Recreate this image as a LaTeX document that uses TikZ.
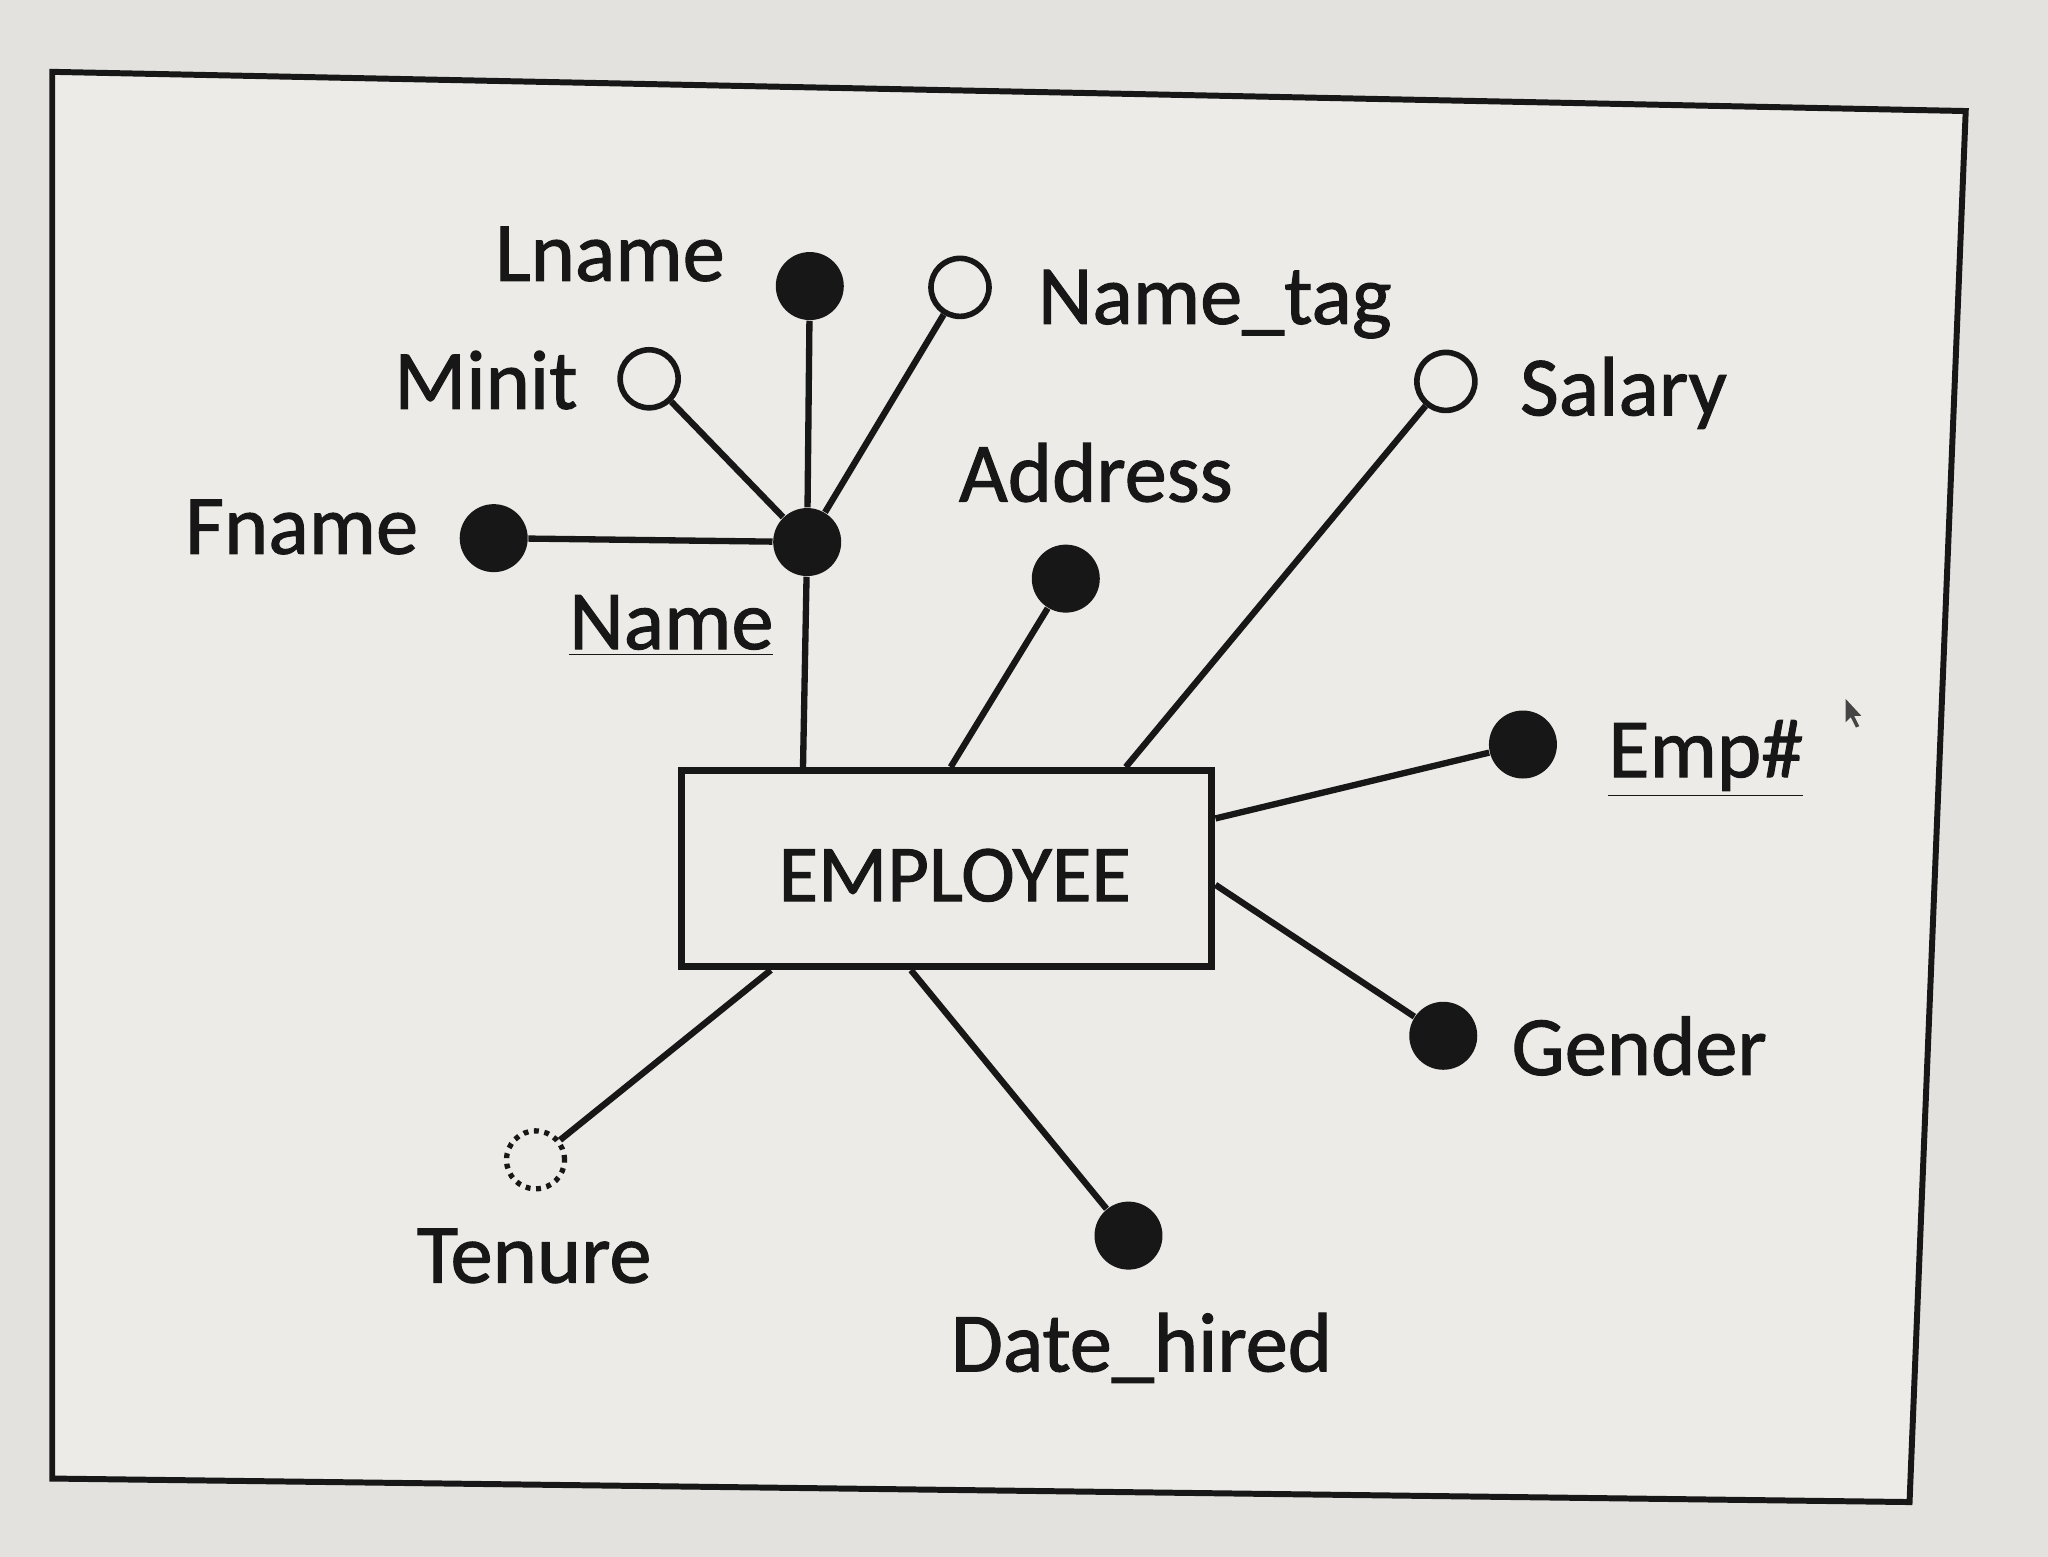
\documentclass[tikz,border=0pt]{standalone}
\usepackage{fontspec}
\setmainfont{Carlito}[BoldFont={Carlito},BoldFeatures={FakeBold=1.2}]
\usetikzlibrary{calc}
\definecolor{ink}{HTML}{171717}
\definecolor{bgout}{HTML}{E3E2DE}
\definecolor{bgin}{HTML}{ECEBE7}
\begin{document}
\begin{tikzpicture}[x=0.01306cm,y=-0.01306cm,
  fulldot/.style={circle,fill=ink,draw=none,minimum size=0.68cm,inner sep=0pt},
  opendot/.style={circle,fill=bgin,draw=ink,line width=1.6pt,minimum size=0.58cm,inner sep=0pt},
  derdot/.style={circle,fill=bgin,draw=ink,line width=1.5pt,dash pattern=on 1.4pt off 1.6pt,minimum size=0.58cm,inner sep=0pt},
  lbl/.style={anchor=base,inner sep=0pt,text=ink,font=\fontsize{24}{28}\selectfont\bfseries},
  conn/.style={draw=ink,line width=1.8pt},
  entity/.style={draw=ink,line width=2pt,fill=bgin,minimum width=5.30cm,minimum height=1.96cm,inner sep=0pt}]
\useasboundingbox (0,0) rectangle (1568,1192);
\fill[bgout] (0,0) rectangle (1568,1192);
% frame
\filldraw[fill=bgin,draw=ink,line width=1.7pt] (40,55) -- (1505,85) -- (1462,1150) -- (40,1132) -- cycle;

% entity
\node[entity] (emp) at (725,665) {};
\node[lbl,font=\fontsize{23}{27}\selectfont\bfseries] (emptxt) at (731,690) {EMPLOYEE};

% attribute dots
\node[fulldot] (lname) at (620,219) {};
\node[opendot] (minit) at (497,290) {};
\node[fulldot] (fname) at (378,412) {};
\node[fulldot] (name) at (618,415) {};
\node[opendot] (nametag) at (735,220) {};
\node[fulldot] (address) at (816,443) {};
\node[opendot] (salary) at (1107,292) {};
\node[fulldot] (empno) at (1166,570) {};
\node[fulldot] (gender) at (1105,793) {};
\node[fulldot] (datehired) at (864,946) {};
\node[derdot] (tenure) at (410,888) {};

% connectors
\draw[conn] (lname) -- (name);
\draw[conn] (minit) -- (name);
\draw[conn] (fname) -- (name);
\draw[conn] (nametag) -- (name);
\draw[conn] (name) -- ($(emp.north west)!0.232!(emp.north east)$);
\draw[conn] (address) -- ($(emp.north west)!0.507!(emp.north east)$);
\draw[conn] (salary) -- ($(emp.north west)!0.833!(emp.north east)$);
\draw[conn] (empno) -- ($(emp.north east)!0.253!(emp.south east)$);
\draw[conn] (gender) -- ($(emp.north east)!0.58!(emp.south east)$);
\draw[conn] (datehired) -- ($(emp.south west)!0.433!(emp.south east)$);
\draw[conn] (tenure) -- ($(emp.south west)!0.172!(emp.south east)$);

% labels
\node[lbl] (lnamel) at (467,215) {Lname};
\node[lbl] (minitl) at (372,313) {Minit};
\node[lbl] (fnamel) at (231,424) {Fname};
\node[lbl] (namel) at (514,497) {\underline{Name}};
\node[lbl] (nametagl) at (930,248) {Name\_tag};
\node[lbl] (salaryl) at (1243,318) {Salary};
\node[lbl] (addressl) at (839,384) {Address};
\node[lbl] (empnol) at (1306,595) {\underline{Emp\#}};
\node[lbl] (genderl) at (1255,823) {Gender};
\node[lbl] (tenurel) at (409,982) {Tenure};
\node[lbl] (datehiredl) at (874,1050) {Date\_hired};

% mouse cursor
\fill[ink!80] (1413,535) -- (1413,553) -- (1417,549) -- (1421,557) -- (1423.5,556) -- (1419.5,548) -- (1425,548) -- cycle;
\end{tikzpicture}
\end{document}
